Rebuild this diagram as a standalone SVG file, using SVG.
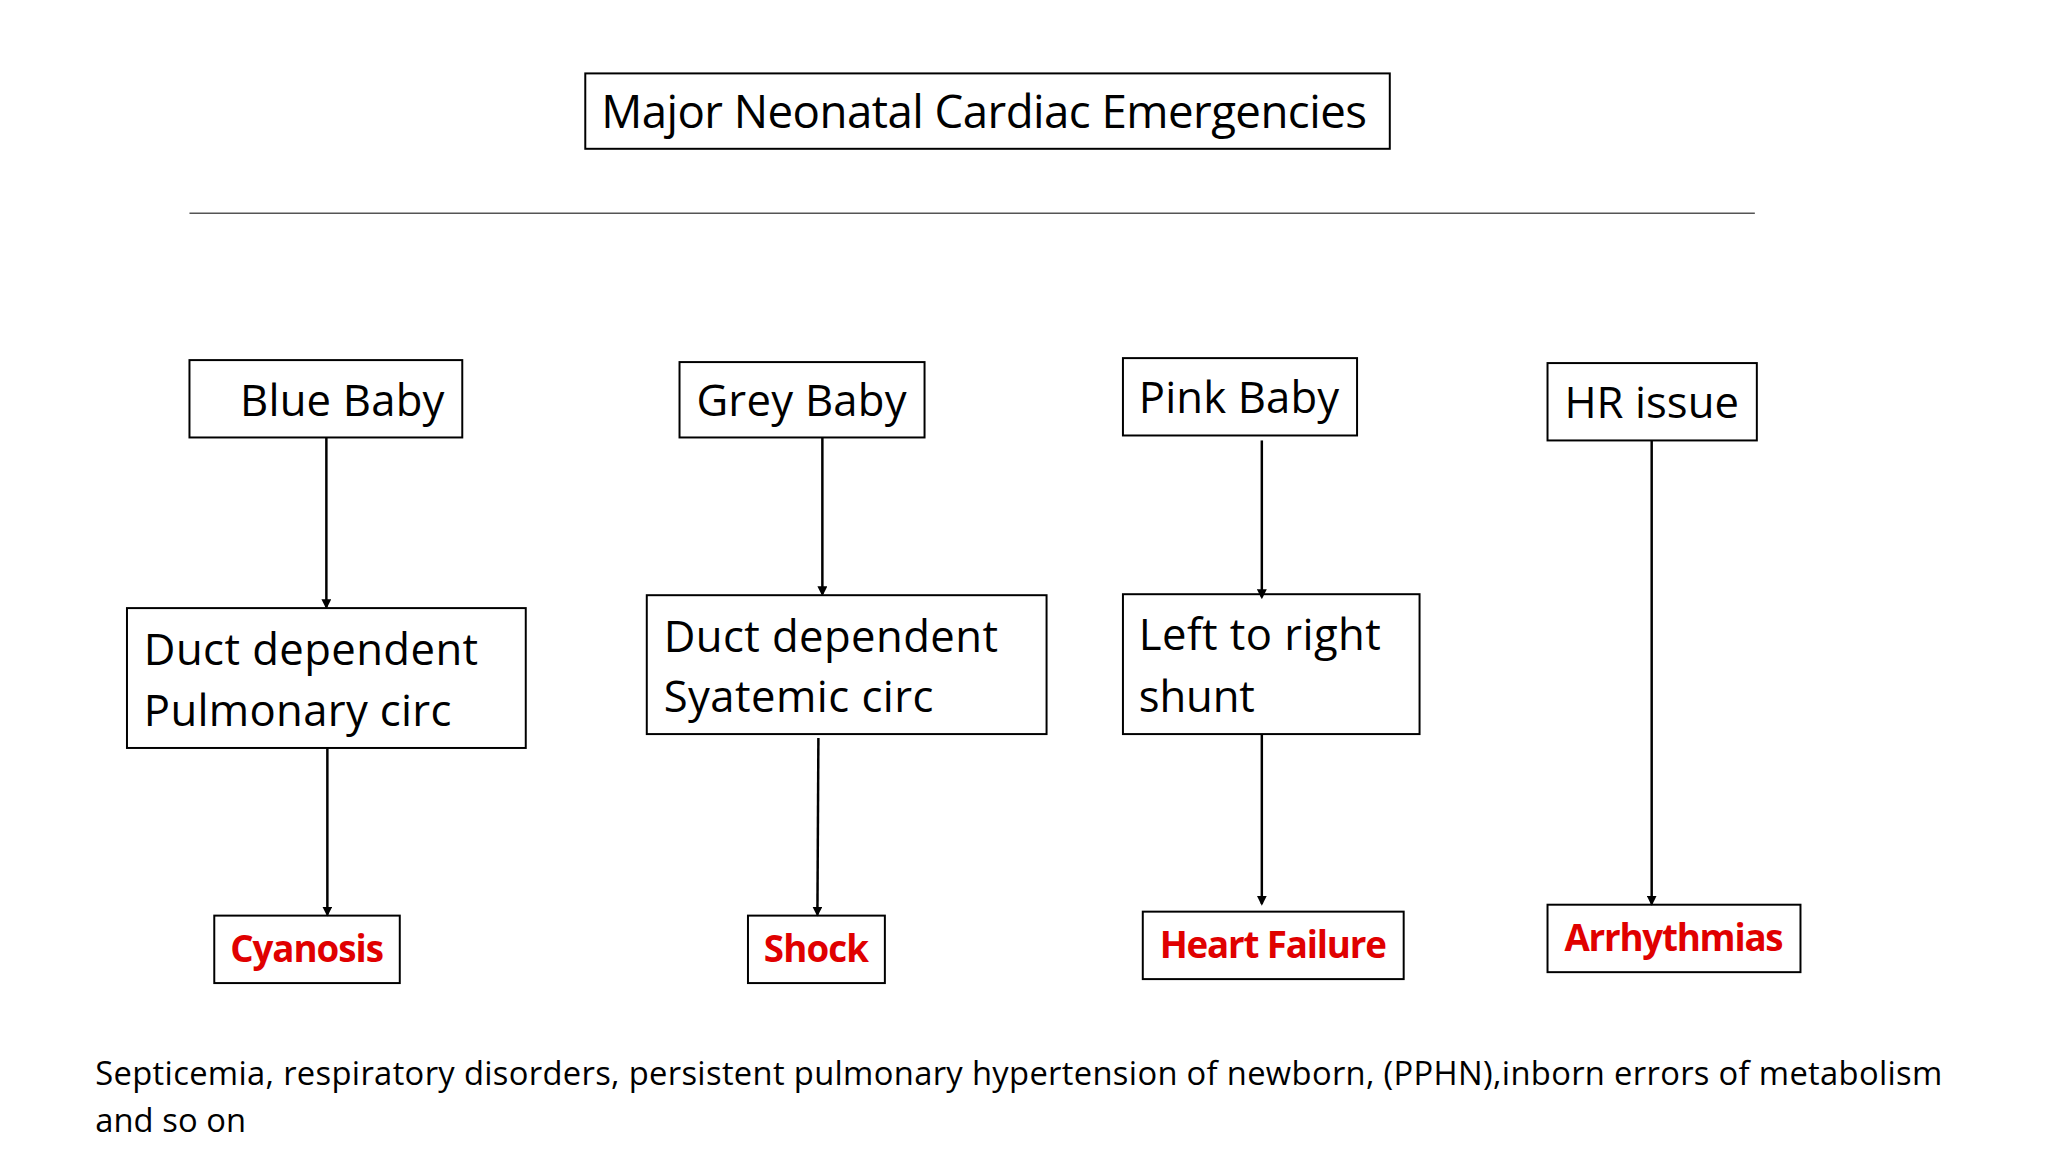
<svg xmlns="http://www.w3.org/2000/svg" width="2048" height="1152" viewBox="0 0 2048 1152">
<style>
rect{fill:#fff;stroke:#000;stroke-width:2}
text{font-family:"Open Sans","Liberation Sans",sans-serif;fill:#000}
.n{font-size:44px}
.r{font-size:37px;font-weight:bold;fill:#e00000}
.c line{stroke:#000;stroke-width:2.5;marker-end:url(#a)}
</style>
<defs><marker id="a" markerWidth="10" markerHeight="10" refX="8" refY="5" orient="auto" markerUnits="userSpaceOnUse"><path d="M0,0L10,5L0,10z" fill="#000"/></marker></defs>
<rect x="0" y="0" width="2048" height="1152" style="stroke:none"/>
<g transform="scale(0.992)">
<g id="title"><rect x="590" y="74" width="811" height="76"/><text x="606" y="129" font-size="46" textLength="772">Major Neonatal Cardiac Emergencies</text></g>
<line x1="191" y1="215" x2="1769" y2="215" stroke="#555" stroke-width="1.5"/>
<g id="blue"><rect x="191" y="363" width="275" height="78"/><text class="n" x="242" y="419" textLength="206">Blue Baby</text></g>
<g id="grey"><rect x="685" y="365" width="247" height="76"/><text class="n" x="702" y="419" textLength="212">Grey Baby</text></g>
<g id="pink"><rect x="1132" y="361" width="236" height="78"/><text class="n" x="1148" y="416" textLength="202">Pink Baby</text></g>
<g id="hr"><rect x="1560" y="366" width="211" height="78"/><text class="n" x="1577" y="421" textLength="176">HR issue</text></g>
<g id="duct1"><rect x="128" y="613" width="402" height="141"/><text class="n" x="145" y="670" textLength="337">Duct dependent</text><text class="n" x="145" y="732" textLength="310">Pulmonary circ</text></g>
<g id="duct2"><rect x="652" y="600" width="403" height="140"/><text class="n" x="669" y="657" textLength="337">Duct dependent</text><text class="n" x="669" y="718" textLength="272">Syatemic circ</text></g>
<g id="ltr"><rect x="1132" y="599" width="299" height="141"/><text class="n" x="1148" y="655" textLength="244">Left to right</text><text class="n" x="1148" y="718" textLength="117">shunt</text></g>
<g id="cyan"><rect x="216" y="923" width="187" height="68"/><text class="r" x="232" y="970" textLength="155">Cyanosis</text></g>
<g id="shock"><rect x="754" y="923" width="138" height="68"/><text class="r" x="770" y="970" textLength="106">Shock</text></g>
<g id="hf"><rect x="1152" y="919" width="263" height="68"/><text class="r" x="1169" y="966" textLength="229">Heart Failure</text></g>
<g id="arr"><rect x="1560" y="912" width="255" height="68"/><text class="r" x="1577" y="959" textLength="221">Arrhythmias</text></g>
<g class="c" id="connectors">
<line x1="329" y1="441" x2="329" y2="612"/>
<line x1="330" y1="754" x2="330" y2="922"/>
<line x1="829" y1="441" x2="829" y2="599"/>
<line x1="825" y1="744" x2="824" y2="922"/>
<line x1="1272" y1="444" x2="1272" y2="602"/>
<line x1="1272" y1="740" x2="1272" y2="911"/>
<line x1="1665" y1="444" x2="1665" y2="911"/>
</g>
<g id="note"><text x="96" y="1094" font-size="33" textLength="1862">Septicemia, respiratory disorders, persistent pulmonary hypertension of newborn, (PPHN),inborn errors of metabolism</text><text x="96" y="1141" font-size="33" textLength="152">and so on</text></g>
</g>
</svg>
